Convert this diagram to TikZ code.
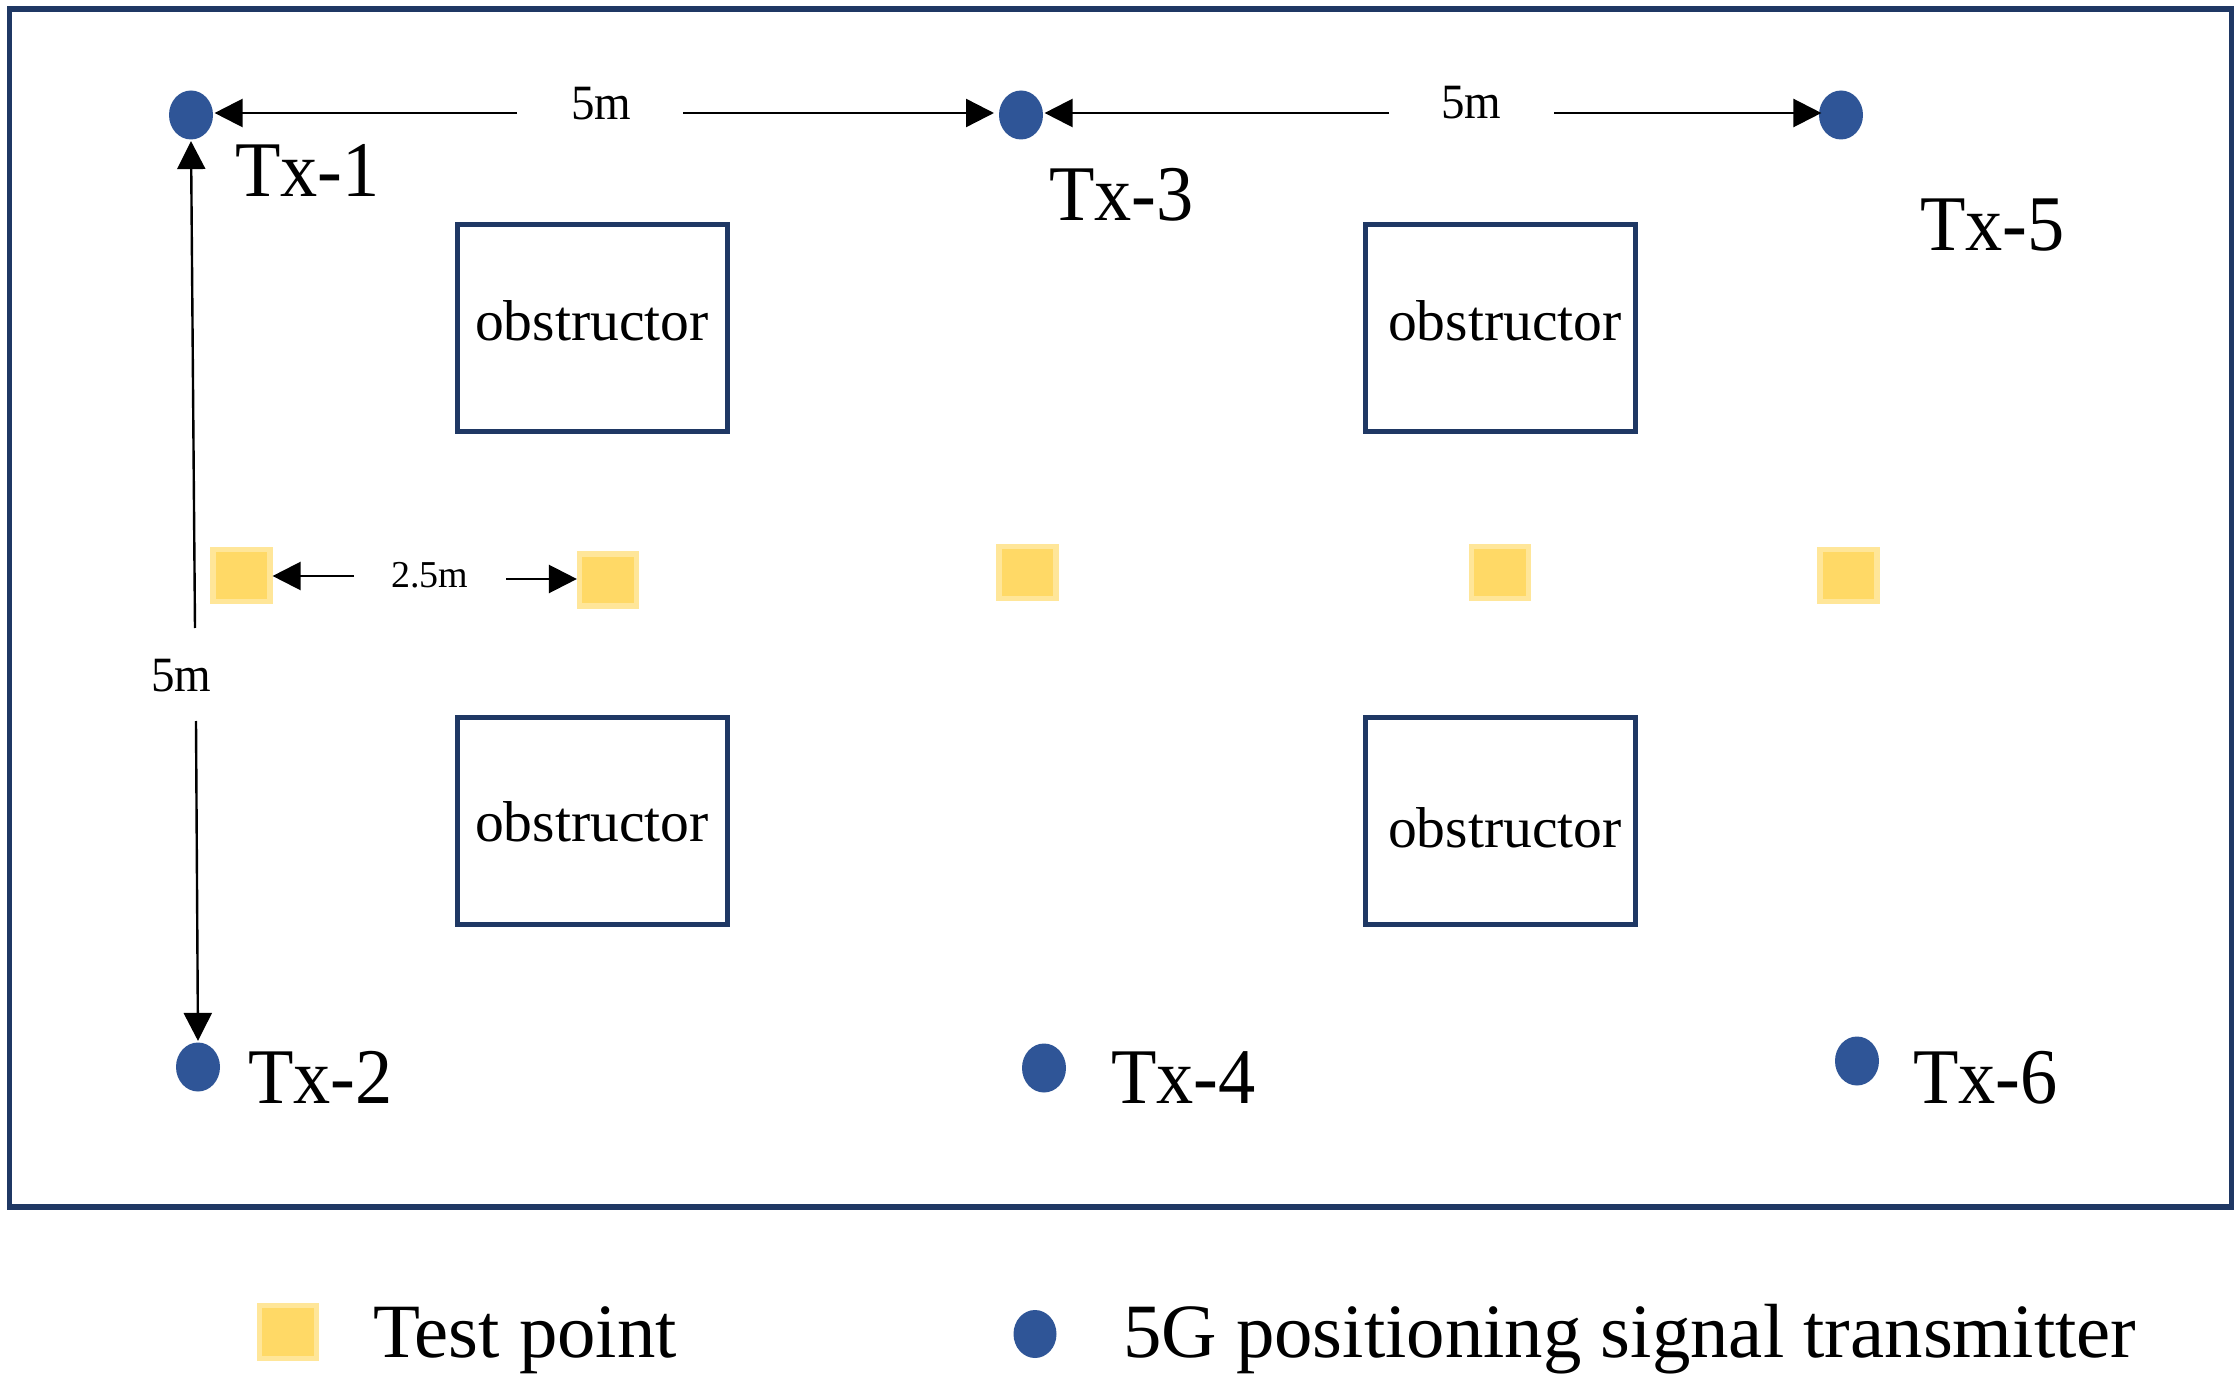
\documentclass[tikz,border=0pt]{standalone}
\usepackage{graphicx}
\usepackage{fontspec}
\setmainfont{Liberation Serif}
\usetikzlibrary{shapes.geometric,arrows.meta}
\definecolor{framec}{HTML}{1F3864}
\definecolor{dotc}{HTML}{2F5597}
\definecolor{sqfill}{HTML}{FFD966}
\definecolor{sqedge}{HTML}{FFE699}
\tikzset{
  frameline/.style={draw=framec,line width=2.8pt,fill=none,inner sep=0pt},
  obstr/.style={draw=framec,line width=2.6pt,inner sep=0pt,minimum width=135pt,minimum height=103.5pt},
  dot/.style={ellipse,fill=dotc,inner sep=0pt,outer sep=0pt,minimum width=22pt,minimum height=24.5pt},
  testsq/.style={rectangle,fill=sqfill,draw=sqedge,line width=2.6pt,inner sep=0pt,minimum width=28.5pt,minimum height=26pt},
  txt/.style={anchor=base west,inner sep=0pt,outer sep=0pt,text=black},
  arr/.style={draw=black,line width=1.2pt,-{Triangle[length=14pt,width=14pt]},shorten >=0.8pt},
}
\newcommand{\txlab}[1]{\fontsize{37.2pt}{41pt}\selectfont\scalebox{1}[1.06]{#1}}
\newcommand{\oblab}[1]{\fontsize{28.8pt}{32pt}\selectfont #1}
\newcommand{\dimlab}[1]{\fontsize{23.5pt}{26pt}\selectfont\scalebox{1}[1.05]{#1}}
\newcommand{\smlab}[1]{\fontsize{19pt}{22pt}\selectfont #1}
\newcommand{\leglab}[1]{\fontsize{38.4pt}{42pt}\selectfont #1}
\begin{document}
\begin{tikzpicture}[x=0.5pt,y=-0.5pt]
\useasboundingbox (0,0) rectangle (2240,1391);
\fill[white] (0,0) rectangle (2240,1391);
% outer frame
\node[frameline,minimum width=1111pt,minimum height=599pt] (frame) at (1120.5,608) {};
% obstructors
\node[obstr] (ob1) at (592.5,328) {};
\node[obstr] (ob2) at (1500.5,328) {};
\node[obstr] (ob3) at (592.5,821) {};
\node[obstr] (ob4) at (1500.5,821) {};
\node[txt] (obt1) at (475,341) {\oblab{obstructor}};
\node[txt] (obt2) at (1388,341) {\oblab{obstructor}};
\node[txt] (obt3) at (475,841) {\oblab{obstructor}};
\node[txt] (obt4) at (1388,847) {\oblab{obstructor}};
% transmitters
\node[dot] (tx1) at (191,115) {};
\node[dot] (tx3) at (1021,115) {};
\node[dot] (tx5) at (1841,115) {};
\node[dot] (tx2) at (198,1067) {};
\node[dot] (tx4) at (1044,1068) {};
\node[dot] (tx6) at (1857,1061) {};
\node[txt] (l1) at (235,197) {\txlab{Tx-1}};
\node[txt] (l3) at (1049,221) {\txlab{Tx-3}};
\node[txt] (l5) at (1920,251) {\txlab{Tx-5}};
\node[txt] (l2) at (248,1103) {\txlab{Tx-2}};
\node[txt] (l4) at (1111,1103) {\txlab{Tx-4}};
\node[txt] (l6) at (1913,1103) {\txlab{Tx-6}};
% test points
\node[testsq] (s1) at (241.5,575.5) {};
\node[testsq] (s2) at (608,580) {};
\node[testsq] (s3) at (1027.5,572.5) {};
\node[testsq] (s4) at (1500,572.5) {};
\node[testsq] (s5) at (1848.5,575.5) {};
% dimension labels
\node[txt] (d1) at (571,120) {\dimlab{5m}};
\node[txt] (d2) at (1441,119) {\dimlab{5m}};
\node[txt] (d3) at (151,691) {\dimlab{5m}};
\node[txt] (d4) at (391,587) {\smlab{2.5m}};
% free ends
\coordinate (a1) at (517,113);
\coordinate (a2) at (683,113);
\coordinate (a3) at (1389,113);
\coordinate (a4) at (1554,113);
\coordinate (a5) at (195,628);
\coordinate (a6) at (196,721);
\coordinate (a7) at (354,576);
\coordinate (a8) at (506,579);
% connectors
\draw[arr] (a1) -- (a1 -| tx1.east);
\draw[arr,shorten >=2.5pt] (a2) -- (a2 -| tx3.west);
\draw[arr] (a3) -- (a3 -| tx3.east);
\draw[arr,shorten >=-1.2pt] (a4) -- (a4 -| tx5.west);
\draw[arr] (a5) -- (tx1.south);
\draw[arr] (a6) -- (tx2.north);
\draw[arr,shorten >=0pt] (a7) -- (a7 -| s1.east);
\draw[arr,shorten >=0pt] (a8) -- (a8 -| s2.west);
% legend
\node[testsq,minimum width=28.5pt,minimum height=26.5pt] (legsq) at (288,1332) {};
\node[dot,minimum width=21.5pt,minimum height=24pt] (legdot) at (1035,1334) {};
\node[txt] (leg1) at (373,1357) {\leglab{Test point}};
\node[txt] (leg2) at (1123,1357) {\leglab{5G positioning signal transmitter}};
\end{tikzpicture}
\end{document}
